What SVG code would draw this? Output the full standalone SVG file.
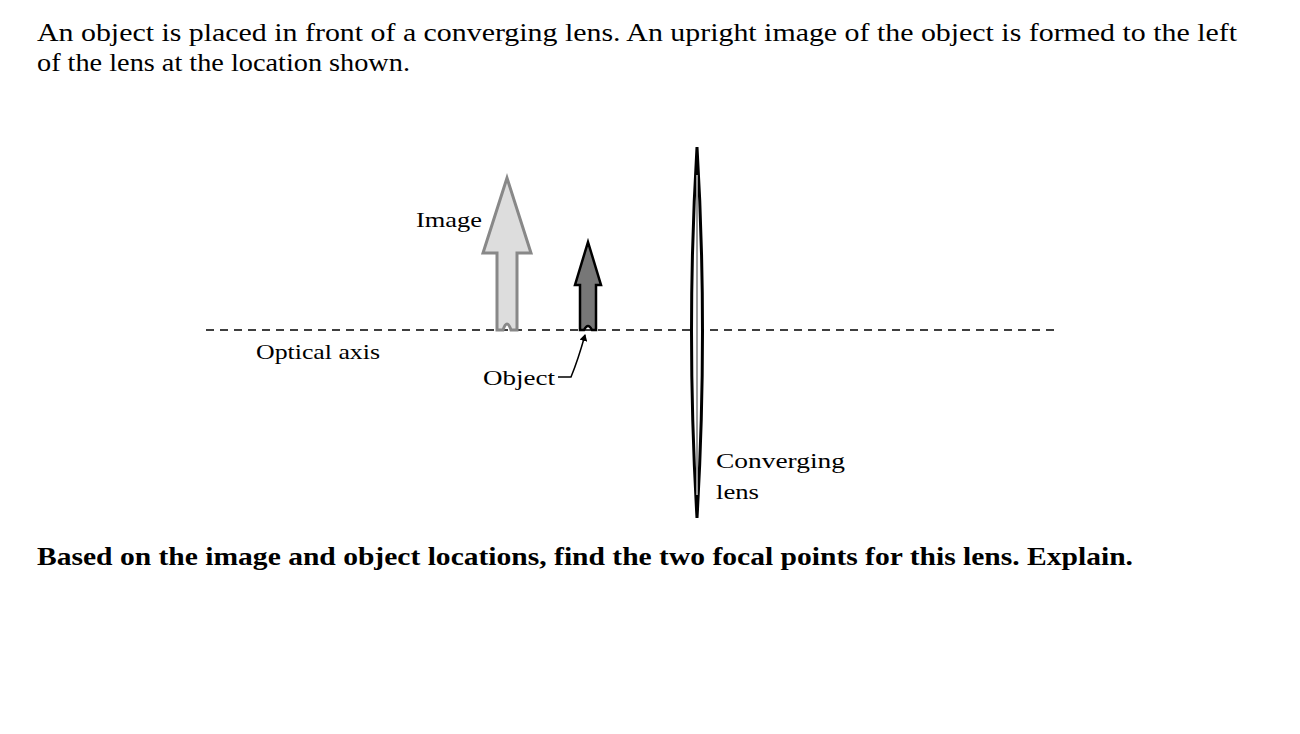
<svg xmlns="http://www.w3.org/2000/svg" width="1300" height="734" viewBox="0 0 1300 734">
<style>
text{font-family:"Liberation Serif",serif;fill:#000}
.t{font-size:26px}
.l{font-size:22px}
</style>
<defs><marker id="ah" markerWidth="8" markerHeight="8" refX="6" refY="4" orient="auto" markerUnits="userSpaceOnUse"><path d="M0,0 L7,4 L0,8 Z" fill="#000"/></marker></defs>
<rect width="1300" height="734" fill="#fff"/>
<text class="t" x="37" y="41" textLength="1200" lengthAdjust="spacingAndGlyphs">An object is placed in front of a converging lens. An upright image of the object is formed to the left</text>
<text class="t" x="37" y="71" textLength="373" lengthAdjust="spacingAndGlyphs">of the lens at the location shown.</text>
<g id="axis"><line x1="206" y1="330" x2="1058" y2="330" stroke="#000" stroke-width="1.5" stroke-dasharray="8,6"/><text class="l" x="256" y="359" textLength="124" lengthAdjust="spacingAndGlyphs">Optical axis</text></g>
<g id="image"><path d="M507,178 L531,253 L517,253 L517,330 L511,330 Q507,318 503,330 L497,330 L497,253 L483,253 Z" fill="#ddd" stroke="#888" stroke-width="3"/><text class="l" x="416" y="227" textLength="66" lengthAdjust="spacingAndGlyphs">Image</text></g>
<g id="object"><path d="M588,242 L601,285 L596,285 L596,330 L592,330 Q588,322 584,330 L580,330 L580,285 L575,285 Z" fill="#777" stroke="#000" stroke-width="2.5"/><text class="l" x="483" y="385" textLength="72" lengthAdjust="spacingAndGlyphs">Object</text></g>
<g id="lens"><path d="M697,147 Q708,330 697,518 Q686,330 697,147 Z" fill="#fff" stroke="#000" stroke-width="3"/><line x1="697" y1="175" x2="697" y2="495" stroke="#999" stroke-width="2"/><text class="l" x="716" y="468" textLength="129" lengthAdjust="spacingAndGlyphs">Converging</text><text class="l" x="716" y="499" textLength="43" lengthAdjust="spacingAndGlyphs">lens</text></g>
<g id="connectors"><path d="M558,377 L571,377 Q578,360 585,335" fill="none" stroke="#000" stroke-width="1.5" marker-end="url(#ah)"/></g>
<text x="37" y="565" textLength="1096" lengthAdjust="spacingAndGlyphs" style="font-size:26px;font-weight:bold">Based on the image and object locations, find the two focal points for this lens.  Explain.</text>
</svg>
